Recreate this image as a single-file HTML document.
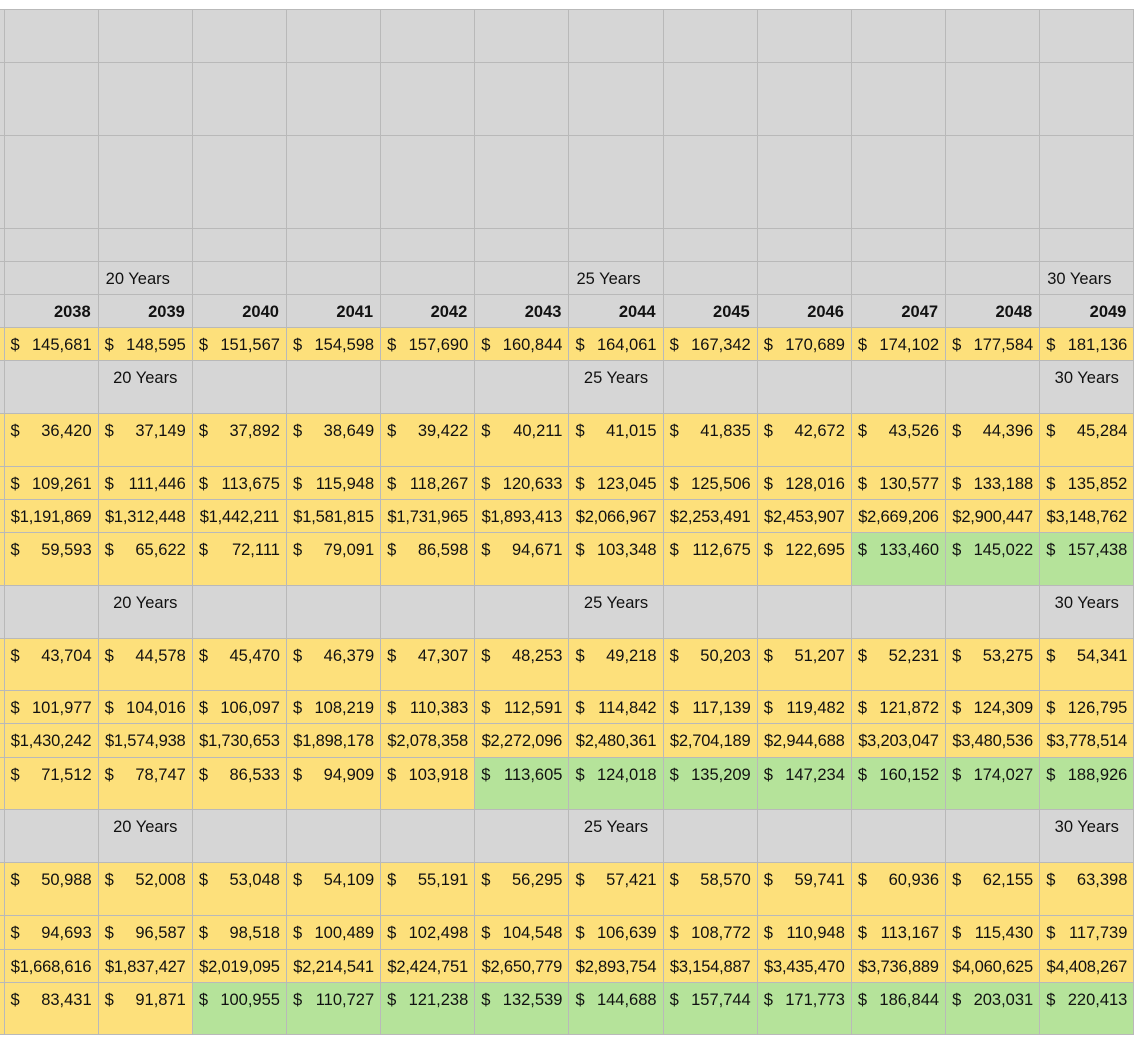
<!DOCTYPE html>
<html><head><meta charset="utf-8">
<style>
html,body{margin:0;padding:0;background:#fff;width:1140px;height:1041px;overflow:hidden}
table{position:absolute;left:0;top:9px;border-collapse:collapse;table-layout:fixed;width:1134px;font-family:"Liberation Sans",Arial,sans-serif;font-size:16.5px;color:#111}
td{border:1px solid #b9b9b9;padding:0;vertical-align:top;overflow:hidden;white-space:nowrap}
td:first-child{border-left:none}
.g td{background:#d6d6d6}
.y td{background:#fde07b}
td.gr{background:#b5e39a!important}
td div{position:relative;top:1.5px}
.v{display:flex;justify-content:space-between;padding:0 6px 0 6px;line-height:31px;height:31px}
.m{text-align:center;line-height:31px;height:31px;letter-spacing:-0.2px}
.l{padding-left:7px;line-height:31px;height:31px}
.c{text-align:center;line-height:31px;height:31px}
.b{text-align:right;padding-right:7px;font-weight:bold;line-height:31px;height:31px}
</style></head><body>
<table>
<colgroup><col style="width:4px"><col span="12" style="width:94.17px"></colgroup>
<tr class="g" style="height:53px"><td></td><td></td><td></td><td></td><td></td><td></td><td></td><td></td><td></td><td></td><td></td><td></td><td></td></tr>
<tr class="g" style="height:73px"><td></td><td></td><td></td><td></td><td></td><td></td><td></td><td></td><td></td><td></td><td></td><td></td><td></td></tr>
<tr class="g" style="height:93px"><td></td><td></td><td></td><td></td><td></td><td></td><td></td><td></td><td></td><td></td><td></td><td></td><td></td></tr>
<tr class="g" style="height:33px"><td></td><td></td><td></td><td></td><td></td><td></td><td></td><td></td><td></td><td></td><td></td><td></td><td></td></tr>
<tr class="g" style="height:33px"><td></td><td></td><td><div class="l">20 Years</div></td><td></td><td></td><td></td><td></td><td><div class="l">25 Years</div></td><td></td><td></td><td></td><td></td><td><div class="l">30 Years</div></td></tr>
<tr class="g" style="height:33px"><td></td><td><div class="b">2038</div></td><td><div class="b">2039</div></td><td><div class="b">2040</div></td><td><div class="b">2041</div></td><td><div class="b">2042</div></td><td><div class="b">2043</div></td><td><div class="b">2044</div></td><td><div class="b">2045</div></td><td><div class="b">2046</div></td><td><div class="b">2047</div></td><td><div class="b">2048</div></td><td><div class="b">2049</div></td></tr>
<tr class="y" style="height:33px"><td></td><td><div class="v"><span>$</span><span>145,681</span></div></td><td><div class="v"><span>$</span><span>148,595</span></div></td><td><div class="v"><span>$</span><span>151,567</span></div></td><td><div class="v"><span>$</span><span>154,598</span></div></td><td><div class="v"><span>$</span><span>157,690</span></div></td><td><div class="v"><span>$</span><span>160,844</span></div></td><td><div class="v"><span>$</span><span>164,061</span></div></td><td><div class="v"><span>$</span><span>167,342</span></div></td><td><div class="v"><span>$</span><span>170,689</span></div></td><td><div class="v"><span>$</span><span>174,102</span></div></td><td><div class="v"><span>$</span><span>177,584</span></div></td><td><div class="v"><span>$</span><span>181,136</span></div></td></tr>
<tr class="g" style="height:53px"><td></td><td></td><td><div class="c">20 Years</div></td><td></td><td></td><td></td><td></td><td><div class="c">25 Years</div></td><td></td><td></td><td></td><td></td><td><div class="c">30 Years</div></td></tr>
<tr class="y" style="height:53px"><td></td><td><div class="v"><span>$</span><span>36,420</span></div></td><td><div class="v"><span>$</span><span>37,149</span></div></td><td><div class="v"><span>$</span><span>37,892</span></div></td><td><div class="v"><span>$</span><span>38,649</span></div></td><td><div class="v"><span>$</span><span>39,422</span></div></td><td><div class="v"><span>$</span><span>40,211</span></div></td><td><div class="v"><span>$</span><span>41,015</span></div></td><td><div class="v"><span>$</span><span>41,835</span></div></td><td><div class="v"><span>$</span><span>42,672</span></div></td><td><div class="v"><span>$</span><span>43,526</span></div></td><td><div class="v"><span>$</span><span>44,396</span></div></td><td><div class="v"><span>$</span><span>45,284</span></div></td></tr>
<tr class="y" style="height:33px"><td></td><td><div class="v"><span>$</span><span>109,261</span></div></td><td><div class="v"><span>$</span><span>111,446</span></div></td><td><div class="v"><span>$</span><span>113,675</span></div></td><td><div class="v"><span>$</span><span>115,948</span></div></td><td><div class="v"><span>$</span><span>118,267</span></div></td><td><div class="v"><span>$</span><span>120,633</span></div></td><td><div class="v"><span>$</span><span>123,045</span></div></td><td><div class="v"><span>$</span><span>125,506</span></div></td><td><div class="v"><span>$</span><span>128,016</span></div></td><td><div class="v"><span>$</span><span>130,577</span></div></td><td><div class="v"><span>$</span><span>133,188</span></div></td><td><div class="v"><span>$</span><span>135,852</span></div></td></tr>
<tr class="y" style="height:33px"><td></td><td><div class="m">$1,191,869</div></td><td><div class="m">$1,312,448</div></td><td><div class="m">$1,442,211</div></td><td><div class="m">$1,581,815</div></td><td><div class="m">$1,731,965</div></td><td><div class="m">$1,893,413</div></td><td><div class="m">$2,066,967</div></td><td><div class="m">$2,253,491</div></td><td><div class="m">$2,453,907</div></td><td><div class="m">$2,669,206</div></td><td><div class="m">$2,900,447</div></td><td><div class="m">$3,148,762</div></td></tr>
<tr class="y" style="height:53px"><td></td><td><div class="v"><span>$</span><span>59,593</span></div></td><td><div class="v"><span>$</span><span>65,622</span></div></td><td><div class="v"><span>$</span><span>72,111</span></div></td><td><div class="v"><span>$</span><span>79,091</span></div></td><td><div class="v"><span>$</span><span>86,598</span></div></td><td><div class="v"><span>$</span><span>94,671</span></div></td><td><div class="v"><span>$</span><span>103,348</span></div></td><td><div class="v"><span>$</span><span>112,675</span></div></td><td><div class="v"><span>$</span><span>122,695</span></div></td><td class="gr"><div class="v"><span>$</span><span>133,460</span></div></td><td class="gr"><div class="v"><span>$</span><span>145,022</span></div></td><td class="gr"><div class="v"><span>$</span><span>157,438</span></div></td></tr>
<tr class="g" style="height:53px"><td></td><td></td><td><div class="c">20 Years</div></td><td></td><td></td><td></td><td></td><td><div class="c">25 Years</div></td><td></td><td></td><td></td><td></td><td><div class="c">30 Years</div></td></tr>
<tr class="y" style="height:52px"><td></td><td><div class="v"><span>$</span><span>43,704</span></div></td><td><div class="v"><span>$</span><span>44,578</span></div></td><td><div class="v"><span>$</span><span>45,470</span></div></td><td><div class="v"><span>$</span><span>46,379</span></div></td><td><div class="v"><span>$</span><span>47,307</span></div></td><td><div class="v"><span>$</span><span>48,253</span></div></td><td><div class="v"><span>$</span><span>49,218</span></div></td><td><div class="v"><span>$</span><span>50,203</span></div></td><td><div class="v"><span>$</span><span>51,207</span></div></td><td><div class="v"><span>$</span><span>52,231</span></div></td><td><div class="v"><span>$</span><span>53,275</span></div></td><td><div class="v"><span>$</span><span>54,341</span></div></td></tr>
<tr class="y" style="height:33px"><td></td><td><div class="v"><span>$</span><span>101,977</span></div></td><td><div class="v"><span>$</span><span>104,016</span></div></td><td><div class="v"><span>$</span><span>106,097</span></div></td><td><div class="v"><span>$</span><span>108,219</span></div></td><td><div class="v"><span>$</span><span>110,383</span></div></td><td><div class="v"><span>$</span><span>112,591</span></div></td><td><div class="v"><span>$</span><span>114,842</span></div></td><td><div class="v"><span>$</span><span>117,139</span></div></td><td><div class="v"><span>$</span><span>119,482</span></div></td><td><div class="v"><span>$</span><span>121,872</span></div></td><td><div class="v"><span>$</span><span>124,309</span></div></td><td><div class="v"><span>$</span><span>126,795</span></div></td></tr>
<tr class="y" style="height:34px"><td></td><td><div class="m">$1,430,242</div></td><td><div class="m">$1,574,938</div></td><td><div class="m">$1,730,653</div></td><td><div class="m">$1,898,178</div></td><td><div class="m">$2,078,358</div></td><td><div class="m">$2,272,096</div></td><td><div class="m">$2,480,361</div></td><td><div class="m">$2,704,189</div></td><td><div class="m">$2,944,688</div></td><td><div class="m">$3,203,047</div></td><td><div class="m">$3,480,536</div></td><td><div class="m">$3,778,514</div></td></tr>
<tr class="y" style="height:52px"><td></td><td><div class="v"><span>$</span><span>71,512</span></div></td><td><div class="v"><span>$</span><span>78,747</span></div></td><td><div class="v"><span>$</span><span>86,533</span></div></td><td><div class="v"><span>$</span><span>94,909</span></div></td><td><div class="v"><span>$</span><span>103,918</span></div></td><td class="gr"><div class="v"><span>$</span><span>113,605</span></div></td><td class="gr"><div class="v"><span>$</span><span>124,018</span></div></td><td class="gr"><div class="v"><span>$</span><span>135,209</span></div></td><td class="gr"><div class="v"><span>$</span><span>147,234</span></div></td><td class="gr"><div class="v"><span>$</span><span>160,152</span></div></td><td class="gr"><div class="v"><span>$</span><span>174,027</span></div></td><td class="gr"><div class="v"><span>$</span><span>188,926</span></div></td></tr>
<tr class="g" style="height:53px"><td></td><td></td><td><div class="c">20 Years</div></td><td></td><td></td><td></td><td></td><td><div class="c">25 Years</div></td><td></td><td></td><td></td><td></td><td><div class="c">30 Years</div></td></tr>
<tr class="y" style="height:53px"><td></td><td><div class="v"><span>$</span><span>50,988</span></div></td><td><div class="v"><span>$</span><span>52,008</span></div></td><td><div class="v"><span>$</span><span>53,048</span></div></td><td><div class="v"><span>$</span><span>54,109</span></div></td><td><div class="v"><span>$</span><span>55,191</span></div></td><td><div class="v"><span>$</span><span>56,295</span></div></td><td><div class="v"><span>$</span><span>57,421</span></div></td><td><div class="v"><span>$</span><span>58,570</span></div></td><td><div class="v"><span>$</span><span>59,741</span></div></td><td><div class="v"><span>$</span><span>60,936</span></div></td><td><div class="v"><span>$</span><span>62,155</span></div></td><td><div class="v"><span>$</span><span>63,398</span></div></td></tr>
<tr class="y" style="height:34px"><td></td><td><div class="v"><span>$</span><span>94,693</span></div></td><td><div class="v"><span>$</span><span>96,587</span></div></td><td><div class="v"><span>$</span><span>98,518</span></div></td><td><div class="v"><span>$</span><span>100,489</span></div></td><td><div class="v"><span>$</span><span>102,498</span></div></td><td><div class="v"><span>$</span><span>104,548</span></div></td><td><div class="v"><span>$</span><span>106,639</span></div></td><td><div class="v"><span>$</span><span>108,772</span></div></td><td><div class="v"><span>$</span><span>110,948</span></div></td><td><div class="v"><span>$</span><span>113,167</span></div></td><td><div class="v"><span>$</span><span>115,430</span></div></td><td><div class="v"><span>$</span><span>117,739</span></div></td></tr>
<tr class="y" style="height:33px"><td></td><td><div class="m">$1,668,616</div></td><td><div class="m">$1,837,427</div></td><td><div class="m">$2,019,095</div></td><td><div class="m">$2,214,541</div></td><td><div class="m">$2,424,751</div></td><td><div class="m">$2,650,779</div></td><td><div class="m">$2,893,754</div></td><td><div class="m">$3,154,887</div></td><td><div class="m">$3,435,470</div></td><td><div class="m">$3,736,889</div></td><td><div class="m">$4,060,625</div></td><td><div class="m">$4,408,267</div></td></tr>
<tr class="y" style="height:52px"><td></td><td><div class="v"><span>$</span><span>83,431</span></div></td><td><div class="v"><span>$</span><span>91,871</span></div></td><td class="gr"><div class="v"><span>$</span><span>100,955</span></div></td><td class="gr"><div class="v"><span>$</span><span>110,727</span></div></td><td class="gr"><div class="v"><span>$</span><span>121,238</span></div></td><td class="gr"><div class="v"><span>$</span><span>132,539</span></div></td><td class="gr"><div class="v"><span>$</span><span>144,688</span></div></td><td class="gr"><div class="v"><span>$</span><span>157,744</span></div></td><td class="gr"><div class="v"><span>$</span><span>171,773</span></div></td><td class="gr"><div class="v"><span>$</span><span>186,844</span></div></td><td class="gr"><div class="v"><span>$</span><span>203,031</span></div></td><td class="gr"><div class="v"><span>$</span><span>220,413</span></div></td></tr>
</table>
</body></html>
